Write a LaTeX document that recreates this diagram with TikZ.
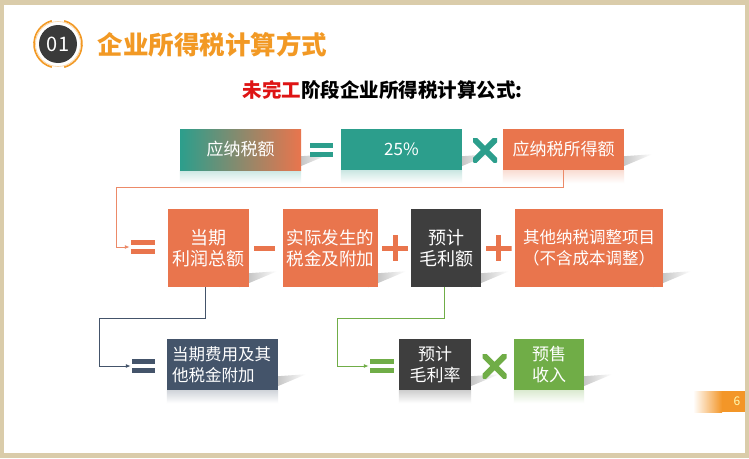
\documentclass[tikz,border=0pt]{standalone}
\usepackage{fontspec}
\setmainfont{Noto Sans CJK SC}
\usetikzlibrary{arrows.meta}
\definecolor{frame}{RGB}{218,204,170}
\definecolor{titleor}{RGB}{242,153,36}
\definecolor{circdark}{RGB}{58,58,58}
\definecolor{boxteal}{RGB}{44,158,140}
\definecolor{boxor}{RGB}{233,117,77}
\definecolor{boxdark}{RGB}{62,62,62}
\definecolor{boxnavy}{RGB}{68,84,106}
\definecolor{boxgreen}{RGB}{112,173,71}
\definecolor{subred}{RGB}{222,20,20}
\definecolor{tabor}{RGB}{243,150,40}
\pgfdeclarelayer{bg}
\pgfdeclarelayer{shade}
\pgfsetlayers{bg,shade,main}
\tikzset{
  box/.style={rectangle,inner sep=0pt,text=white,align=center,
    font=\fontsize{17}{20}\selectfont},
  eqsign/.style={rectangle,minimum width=23pt,minimum height=14pt,inner sep=0pt,
    path picture={
      \fill[#1] (path picture bounding box.north west) rectangle ([yshift=-5pt]path picture bounding box.north east);
      \fill[#1] (path picture bounding box.south west) rectangle ([yshift=5pt]path picture bounding box.south east);}},
  minussign/.style={rectangle,fill=#1,minimum width=21pt,minimum height=5pt,inner sep=0pt},
  plussign/.style={rectangle,minimum size=26pt,inner sep=0pt,
    path picture={
      \fill[#1] ([yshift=-2.5pt]path picture bounding box.west) rectangle ([yshift=2.5pt]path picture bounding box.east);
      \fill[#1] ([xshift=-2.5pt]path picture bounding box.south) rectangle ([xshift=2.5pt]path picture bounding box.north);}},
  timessign/.style={rectangle,minimum size=24pt,inner sep=0pt,
    path picture={
      \draw[#1,line width=6pt] (path picture bounding box.north west) -- (path picture bounding box.south east)
        (path picture bounding box.south west) -- (path picture bounding box.north east);}},
  link/.style={line width=1pt,-{Latex[length=5pt,width=4pt]},shorten >=1pt}
}
% soft shadow to the lower right of a box
\newcommand\boxshade[1]{%
  \shade[left color=black!30,right color=white]
    ([xshift=-10pt]#1.south east) -- ([xshift=28pt,yshift=16pt]#1.south east)
    -- ([yshift=14pt]#1.south east) -- cycle;}
% faint mirror under a box
\newcommand\boxmirror[2]{%
  \shade[top color=#2!25,bottom color=white]
    (#1.south west) rectangle ([yshift=-13pt]#1.south east);}
\begin{document}
\begin{tikzpicture}[x=1pt,y=-1pt]
\begin{pgfonlayer}{bg}
\fill[frame] (0,0) rectangle (749,458);
\fill[white] (4,5) rectangle (745,453);
\end{pgfonlayer}

% title
\fill[circdark] (58,44) circle (19);
\draw[titleor!45,line width=0.6pt] (58,44) circle (22.5);
\draw[titleor,line width=1.6pt] (58,44) ++(105:24) arc (105:255:24);
\draw[titleor,line width=1.6pt] (58,44) ++(-75:24) arc (-75:75:24);
\node[text=white,font=\fontsize{20}{22}\selectfont] (num) at (58,44) {01};
\node[anchor=west,text=titleor,font=\bfseries\fontsize{25.5}{28}\selectfont] (title) at (94,45) {企业所得税计算方式};
\node[anchor=west,font=\bfseries\fontsize{19.5}{22}\selectfont] (subtitle) at (239,90)
  {\textcolor{subred}{未完工}阶段企业所得税计算公式:};

% row 1
\node[box,left color=boxteal,right color=boxor,minimum width=121pt,minimum height=41pt] (payable) at (240.5,149.5) {应纳税额};
\node[eqsign=boxteal] (eq1) at (321.5,150) {};
\node[box,fill=boxteal,minimum width=121pt,minimum height=41pt] (rate) at (401.5,149.5) {25\%};
\node[timessign=boxteal] (times1) at (485,150) {};
\node[box,fill=boxor,minimum width=121pt,minimum height=41pt] (taxable) at (563.5,149.5) {应纳税所得额};

% row 2
\node[eqsign=boxor,minimum width=24pt] (eq2) at (143,247) {};
\node[box,fill=boxor,minimum width=81pt,minimum height=78pt,font=\fontsize{18}{21}\selectfont] (profit) at (208.5,248) {当期\\利润总额};
\node[minussign=boxor] (minus) at (264.5,248) {};
\node[box,fill=boxor,minimum width=95pt,minimum height=78pt,font=\fontsize{17.5}{21}\selectfont] (surtax) at (330.5,248) {实际发生的\\税金及附加};
\node[plussign=boxor] (plus1) at (395,248) {};
\node[box,fill=boxdark,minimum width=70pt,minimum height=78pt,font=\fontsize{18}{21}\selectfont] (grossamt) at (446,248) {预计\\毛利额};
\node[plussign=boxor] (plus2) at (498.5,248) {};
\node[box,fill=boxor,minimum width=148pt,minimum height=78pt,font=\fontsize{16.5}{21}\selectfont] (adjust) at (589,248) {其他纳税调整项目\\（不含成本调整）};

% row 3
\node[eqsign=boxnavy] (eq3) at (143.5,366) {};
\node[box,fill=boxnavy,minimum width=111pt,minimum height=51pt,align=left,text width=101pt,font=\fontsize{16.5}{21}\selectfont] (expense) at (222.5,364.5) {当期费用及其\\他税金附加};
\node[eqsign=boxgreen,minimum width=24pt] (eq4) at (382,366) {};
\node[box,fill=boxdark,minimum width=72pt,minimum height=51pt,font=\fontsize{17}{21}\selectfont] (grossrate) at (435,364.5) {预计\\毛利率};
\node[timessign=boxgreen] (times2) at (494.5,366) {};
\node[box,fill=boxgreen,minimum width=70pt,minimum height=51pt,font=\fontsize{17}{21}\selectfont] (presale) at (549,364.5) {预售\\收入};

\begin{pgfonlayer}{shade}
\foreach \b in {payable,rate,taxable,profit,surtax,grossamt,adjust,expense,grossrate,presale}
  {\boxshade{\b}}
\boxmirror{payable}{boxteal}
\boxmirror{rate}{boxteal}
\boxmirror{taxable}{boxor}
\boxmirror{expense}{boxnavy}
\boxmirror{grossrate}{boxdark}
\boxmirror{presale}{boxgreen}
\end{pgfonlayer}

% connectors
\draw[link,boxor!85] (taxable.south) -- ++(0,17) -| ([xshift=-14pt]eq2.west) |- (eq2.west);
\draw[link,boxnavy] ([xshift=-3pt]profit.south) -- ++(0,31) -| ([xshift=-32pt]eq3.west) |- (eq3.west);
\draw[link,boxgreen] ([xshift=-2pt]grossamt.south) -- ++(0,31) -| ([xshift=-32pt]eq4.west) |- (eq4.west);

% page tab
\shade[left color=white,right color=tabor] (693,391) rectangle (722,412);
\fill[tabor] (722,391) rectangle (745,412);
\node[text=yellow!30!white,font=\fontsize{12}{14}\selectfont] (page) at (737,401.5) {6};
\end{tikzpicture}
\end{document}
